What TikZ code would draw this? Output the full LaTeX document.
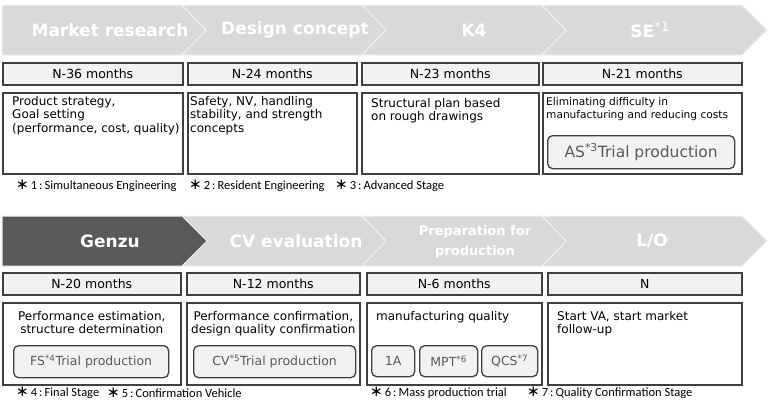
\documentclass[tikz,border=0pt]{standalone}
\usepackage{fontspec}
\setmainfont{DejaVu Sans}
\newfontfamily\notefont{Carlito}
\newfontfamily\cjkfont{Noto Sans CJK JP}
\definecolor{bandgray}{HTML}{D9D9D9}
\definecolor{banddark}{HTML}{595959}
\definecolor{bandedge}{HTML}{F4F2E8}
\definecolor{boxedge}{HTML}{404040}
\definecolor{boxfill}{HTML}{F2F2F2}
\definecolor{btntext}{HTML}{595959}
\newcommand{\fnstar}[1]{{\cjkfont\bfseries ＊}\,#1\,:\,}
\tikzset{
  chev/.style={fill=bandgray,draw=bandedge,line width=1pt},
  chevdark/.style={fill=banddark,draw=bandedge,line width=1pt},
  stagetxt/.style={text=white,font=\bfseries\fontsize{17}{19}\selectfont,inner sep=0pt},
  monthbox/.style={draw=boxedge,line width=1.6pt,fill=boxfill,anchor=north west,inner sep=0pt,
    minimum height=22pt,font=\fontsize{12.5}{14}\selectfont},
  descbox/.style={draw=boxedge,line width=1.6pt,fill=white,anchor=north west,inner sep=0pt},
  desctxt/.style={anchor=north west,inner sep=0pt,align=left,font=\fontsize{12}{13.5}\selectfont},
  trialbtn/.style={draw=boxedge,line width=1.3pt,fill=boxfill,rounded corners=5pt,anchor=north west,
    inner sep=0pt,text=btntext,font=\fontsize{12.5}{14}\selectfont},
  fnote/.style={anchor=west,inner sep=0pt,font=\notefont\fontsize{12.5}{14}\selectfont}
}
\begin{document}
\begin{tikzpicture}[x=1pt,y=-1pt]
\useasboundingbox (0,0) rectangle (768,408);
% top band
\foreach \xl/\xr/\nt in {2/182/0,182/362/24,362/542/24,542/742/24}
  \filldraw[chev] (\xl,5) -- (\xr,5) -- (\xr+25,30) -- (\xr,55) -- (\xl,55) -- (\xl+\nt,30) -- cycle;
\node[stagetxt] (s1) at (110,30) {Market research};
\node[stagetxt] (s2) at (295,30) {Design concept};
\node[stagetxt] (s3) at (474,30) {K4};
\node[stagetxt] (s4) at (650,30) {SE{\mdseries\fontsize{19}{19}\selectfont\textsuperscript{*1}}};
% top boxes
\node[monthbox,minimum width=180] (m1) at (2,62) {N-36 months};
\node[monthbox,minimum width=169] (m2) at (187,62) {N-24 months};
\node[monthbox,minimum width=177] (m3) at (361,62) {N-23 months};
\node[monthbox,minimum width=199] (m4) at (542,62) {N-21 months};
\node[descbox,minimum width=180,minimum height=81] (d1) at (2,92) {};
\node[descbox,minimum width=169,minimum height=81] (d2) at (187,92) {};
\node[descbox,minimum width=177,minimum height=81] (d3) at (361,92) {};
\node[descbox,minimum width=199,minimum height=81] (d4) at (542,92) {};
\node[desctxt] (t1) at ([xshift=10pt,yshift=-4pt]d1.north west) {Product strategy,\\Goal setting\\(performance, cost, quality)};
\node[desctxt] (t2) at ([xshift=3pt,yshift=-4pt]d2.north west) {Safety, NV, handling\\stability, and strength\\concepts};
\node[desctxt] (t3) at ([xshift=10pt,yshift=-6pt]d3.north west) {Structural plan based\\on rough drawings};
\node[desctxt,font=\fontsize{10.6}{13}\selectfont] (t4) at ([xshift=4pt,yshift=-5pt]d4.north west) {Eliminating difficulty in\\manufacturing and reducing costs};
\node[trialbtn,minimum width=187,minimum height=33,font=\fontsize{15.5}{17}\selectfont] (b1) at (547,135) {AS\textsuperscript{*3}Trial production};
% notes top
\node[fnote] (n1) at (16,186) {\fnstar{1}Simultaneous Engineering};
\node[fnote] (n2) at (189,186) {\fnstar{2}Resident Engineering};
\node[fnote] (n3) at (335,186) {\fnstar{3}Advanced Stage};
% bottom band
\foreach \xl/\xr/\nt in {2/182/0,182/362/24,362/542/24,542/742/24}
  \filldraw[chev] (\xl,216) -- (\xr,216) -- (\xr+25,241) -- (\xr,266) -- (\xl,266) -- (\xl+\nt,241) -- cycle;
\filldraw[chevdark] (2,216) -- (182,216) -- (207,241) -- (182,266) -- (2,266) -- cycle;
\node[stagetxt] (g1) at (110,241) {Genzu};
\node[stagetxt] (g2) at (296,241) {CV evaluation};
\node[stagetxt,align=center,font=\bfseries\fontsize{13}{20}\selectfont] (g3) at (475,242) {Preparation for\\production};
\node[stagetxt] (g4) at (652,241) {L/O};
% bottom boxes
\node[monthbox,minimum width=178] (m5) at (2,272) {N-20 months};
\node[monthbox,minimum width=173] (m6) at (186,272) {N-12 months};
\node[monthbox,minimum width=175] (m7) at (366,272) {N-6 months};
\node[monthbox,minimum width=194] (m8) at (547,272) {N};
\node[descbox,minimum width=178,minimum height=82] (d5) at (2,302) {};
\node[descbox,minimum width=173,minimum height=82] (d6) at (186,302) {};
\node[descbox,minimum width=175,minimum height=82] (d7) at (366,302) {};
\node[descbox,minimum width=194,minimum height=82] (d8) at (547,302) {};
\node[desctxt,anchor=north,align=center] (t5) at ([yshift=-9pt]d5.north) {Performance estimation,\\structure determination};
\node[desctxt,anchor=north,align=center] (t6) at ([yshift=-9pt]d6.north) {Performance confirmation,\\design quality confirmation};
\node[desctxt] (t7) at ([xshift=10pt,yshift=-9pt]d7.north west) {manufacturing quality};
\node[desctxt] (t8) at ([xshift=10pt,yshift=-9pt]d8.north west) {Start VA, start market\\follow-up};
\node[trialbtn,minimum width=155,minimum height=32] (b2) at (13,345) {FS\textsuperscript{*4}Trial production};
\node[trialbtn,minimum width=162,minimum height=32] (b3) at (193,345) {CV\textsuperscript{*5}Trial production};
\node[trialbtn,minimum width=43,minimum height=31] (b4) at (371,345) {1A};
\node[trialbtn,minimum width=58,minimum height=31] (b5) at (419,345) {MPT\textsuperscript{*6}};
\node[trialbtn,minimum width=56,minimum height=31] (b6) at (481,345) {QCS\textsuperscript{*7}};
% notes bottom
\node[fnote] (n4) at (16,393) {\fnstar{4}Final Stage};
\node[fnote] (n5) at (107,393) {\fnstar{5}Confirmation Vehicle};
\node[fnote] (n6) at (370,393) {\fnstar{6}Mass production trial};
\node[fnote] (n7) at (527,393) {\fnstar{7}Quality Confirmation Stage};
\end{tikzpicture}
\end{document}
